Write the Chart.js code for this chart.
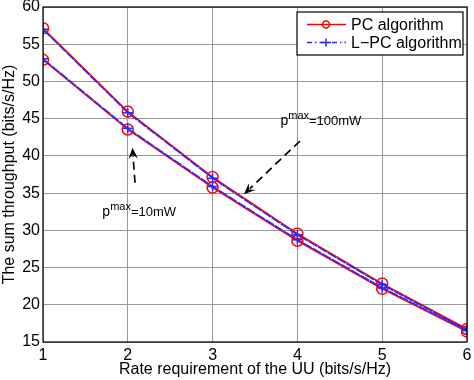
<!DOCTYPE html>
<html><head><meta charset="utf-8">
<script src="https://cdn.jsdelivr.net/npm/chart.js@4/dist/chart.umd.min.js"></script>
<style>html,body{margin:0;padding:0;background:#fff}#wrap{width:474px;height:380px}</style>
</head><body><div id="wrap"><canvas id="c" width="474" height="380"></canvas></div>
<script>
const rates = [1, 2, 3, 4, 5, 6];
const pcHigh = [57.15, 45.95, 37.15, 29.55, 22.85, 16.75];
const pcLow = [52.9, 43.55, 35.75, 28.6, 22.15, 16.4];
const lpcHigh = [57.0, 45.8, 37.0, 29.4, 22.7, 16.6];
const lpcLow = [53.05, 43.7, 35.9, 28.75, 22.3, 16.55];
const yTicks = [15, 20, 25, 30, 35, 40, 45, 50, 55, 60];
const xTicks = [1, 2, 3, 4, 5, 6];
const seriesNames = ['PC algorithm', 'L\u2212PC algorithm'];
const xTitle = 'Rate requirement of the UU (bits/s/Hz)';
const yTitle = 'The sum throughput (bits/s/Hz)';
// annotations in data units
const notes = [
  {label: '100mW', tx: 3.80, ty: 44.2, from: [4.03, 42.0], to: [3.37, 34.85]},
  {label: '10mW', tx: 1.70, ty: 31.9, from: [2.085, 36.4], to: [2.055, 41.1]}
];
const FONT = 'Liberation Sans, Arial, sans-serif';

function pts(ys){ return rates.map((x,i)=>({x:x,y:ys[i]})); }
const red = '#ff0000', blue = '#2a2aff';
function redDs(ys){return {data:pts(ys),borderColor:red,borderWidth:1.5,pointStyle:'circle',pointRadius:5.5,pointBorderColor:red,pointBackgroundColor:'rgba(0,0,0,0)',pointBorderWidth:1.5,tension:0,fill:false,order:2};}
function blueDs(ys){return {data:pts(ys),borderColor:blue,borderWidth:1.5,borderDash:[10,1],pointStyle:'cross',pointRadius:5,pointBorderColor:blue,pointBorderWidth:1.5,tension:0,fill:false,order:1};}

const overlay = {
  id:'overlay',
  afterDraw(chart){
    const {ctx, chartArea:a, scales:{x,y}} = chart;
    ctx.save();
    ctx.strokeStyle='#000'; ctx.lineWidth=1.2; ctx.setLineDash([]);
    ctx.strokeRect(a.left, a.top, a.right-a.left, a.bottom-a.top);
    notes.forEach(n=>{
      const x0=x.getPixelForValue(n.from[0]), y0=y.getPixelForValue(n.from[1]);
      const x1=x.getPixelForValue(n.to[0]), y1=y.getPixelForValue(n.to[1]);
      const ang=Math.atan2(y1-y0,x1-x0);
      ctx.strokeStyle='#000'; ctx.lineWidth=1.7; ctx.setLineDash([8,5]);
      ctx.beginPath(); ctx.moveTo(x0,y0); ctx.lineTo(x1-Math.cos(ang)*8,y1-Math.sin(ang)*8); ctx.stroke();
      ctx.setLineDash([]);
      ctx.fillStyle='#000';
      ctx.beginPath();
      ctx.moveTo(x1,y1);
      ctx.lineTo(x1-Math.cos(ang-0.4)*12, y1-Math.sin(ang-0.4)*12);
      ctx.lineTo(x1-Math.cos(ang)*7, y1-Math.sin(ang)*7);
      ctx.lineTo(x1-Math.cos(ang+0.4)*12, y1-Math.sin(ang+0.4)*12);
      ctx.closePath(); ctx.fill();
      const tx=x.getPixelForValue(n.tx), ty=y.getPixelForValue(n.ty);
      ctx.textBaseline='alphabetic'; ctx.textAlign='left';
      ctx.font='14px '+FONT; ctx.fillText('p', tx, ty);
      const pw=ctx.measureText('p').width;
      ctx.font='11px '+FONT; ctx.fillText('max', tx+pw, ty-6);
      const mw=ctx.measureText('max').width;
      ctx.font='13px '+FONT; ctx.fillText('='+n.label, tx+pw+mw, ty);
    });
    // legend
    const lx=297, ly=12, lw=166, lh=43;
    ctx.fillStyle='#fff'; ctx.fillRect(lx,ly,lw,lh);
    ctx.strokeStyle='#000'; ctx.lineWidth=1.2; ctx.strokeRect(lx,ly,lw,lh);
    ctx.font='16px '+FONT; ctx.textBaseline='middle'; ctx.fillStyle='#000';
    let ry=ly+12.5;
    ctx.strokeStyle=red; ctx.lineWidth=1.5;
    ctx.beginPath(); ctx.moveTo(lx+10,ry); ctx.lineTo(lx+49,ry); ctx.stroke();
    ctx.beginPath(); ctx.arc(lx+29,ry,3.5,0,Math.PI*2); ctx.stroke();
    ctx.fillText(seriesNames[0], lx+54, ry+1);
    ry=ly+30.5;
    ctx.strokeStyle=blue; ctx.setLineDash([5,3,1.5,3]);
    ctx.beginPath(); ctx.moveTo(lx+10,ry); ctx.lineTo(lx+49,ry); ctx.stroke();
    ctx.setLineDash([]);
    ctx.beginPath(); ctx.moveTo(lx+24,ry); ctx.lineTo(lx+34,ry); ctx.moveTo(lx+29,ry-4); ctx.lineTo(lx+29,ry+4); ctx.stroke();
    ctx.fillStyle='#000'; ctx.fillText(seriesNames[1], lx+54, ry+1);
    ctx.restore();
  }
};

new Chart(document.getElementById('c'), {
  type:'line',
  data:{datasets:[redDs(pcHigh), blueDs(lpcHigh), redDs(pcLow), blueDs(lpcLow)]},
  options:{
    responsive:false, animation:false, devicePixelRatio:1,
    layout:{padding:{top:6,right:5,left:0,bottom:0}},
    plugins:{legend:{display:false},tooltip:{enabled:false}},
    scales:{
      x:{type:'linear',min:1,max:6,
        afterBuildTicks(s){s.ticks=xTicks.map(v=>({value:v}));},
        afterFit(s){s.height=38;s.paddingLeft=0;s.paddingRight=0;},
        grid:{color:'#999',borderDash:[1,3],drawTicks:false,lineWidth:1},
        border:{display:false},
        ticks:{color:'#000',font:{family:FONT,size:16},padding:4,maxRotation:0},
        title:{display:true,text:xTitle,color:'#000',font:{family:FONT,size:16},padding:{top:0,bottom:1}}
      },
      y:{type:'linear',min:15,max:60,
        afterBuildTicks(s){s.ticks=yTicks.map(v=>({value:v}));},
        afterFit(s){s.width=43;s.paddingTop=0;s.paddingBottom=0;},
        grid:{color:'#999',borderDash:[1,3],drawTicks:false,lineWidth:1},
        border:{display:false},
        ticks:{color:'#000',font:{family:FONT,size:16},padding:3},
        title:{display:true,text:yTitle,color:'#000',font:{family:FONT,size:16},padding:{top:0,bottom:0}}
      }
    }
  },
  plugins:[overlay]
});
</script></body></html>
